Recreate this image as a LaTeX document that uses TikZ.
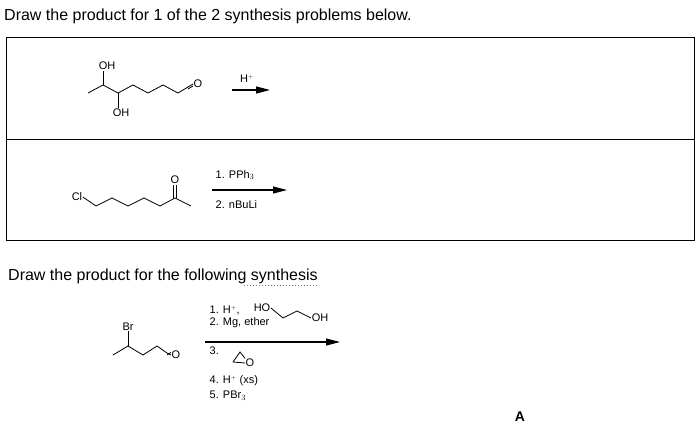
\documentclass[tikz,border=0pt]{standalone}
\usepackage{fontspec}
\setmainfont{Liberation Sans}
\usetikzlibrary{arrows.meta}
\begin{document}
\begin{tikzpicture}[x=1pt,y=-1pt,
  bond/.style={line width=0.8pt},
  lab/.style={inner sep=0.5pt,font=\fontsize{11}{12}\selectfont},
  rxn/.style={line width=1.1pt,-{Triangle[length=14pt,width=7pt]}},
  title/.style={anchor=west,inner sep=0,font=\fontsize{16}{18}\selectfont}]
\useasboundingbox (0,0) rectangle (700,433);
\node[title] (t1) at (4,16) {Draw the product for 1 of the 2 synthesis problems below.};
\draw[line width=0.8pt] (6,37) rectangle (694,240);
\draw[line width=0.8pt] (6,139) -- (694,139);
% molecule 1
\node[lab] (oh1) at (107,66) {OH};
\node[lab] (oh2) at (121,113) {OH};
\node[lab] (o1) at (198,84) {O};
\coordinate (a1) at (88,93);
\coordinate (a2) at (103,85);
\coordinate (a3) at (118,93);
\coordinate (a4) at (133,85);
\coordinate (a5) at (148,93);
\coordinate (a6) at (163,85);
\coordinate (a7) at (178,93);
\coordinate (a8) at (188,87);
\draw[bond] (a1)--(a2)--(a3)--(a4)--(a5)--(a6)--(a7)--(a8);
\draw[bond] (a2)--(oh1.south -| a2);
\draw[bond] (a3)--(oh2.north -| a3);
\draw[bond] (a8)--(o1.west);
\draw[bond] ([yshift=-2pt]a8)--([yshift=-2pt]o1.west);
\coordinate (r1s) at (232,90); \coordinate (r1e) at (270,90);
\draw[rxn] (r1s)--(r1e);
\node[lab] (hp1) at (247,79) {H$^{\scriptscriptstyle +}$};
% molecule 2
\node[lab] (cl) at (77,197) {Cl};
\coordinate (b1) at (96,206);
\coordinate (b2) at (112,198);
\coordinate (b3) at (128,206);
\coordinate (b4) at (144,198);
\coordinate (b5) at (160,206);
\coordinate (b6) at (175,198);
\coordinate (b7) at (191,206);
\node[lab] (o2) at (175,180) {O};
\draw[bond] (cl.east)--(b1)--(b2)--(b3)--(b4)--(b5)--(b6)--(b7);
\draw[bond] ([xshift=-1.3pt]b6)--([xshift=-1.3pt]o2.south);
\draw[bond] ([xshift=1.3pt]b6)--([xshift=1.3pt]o2.south);
\coordinate (r2s) at (212,190); \coordinate (r2e) at (287,190);
\draw[rxn] (r2s)--(r2e);
\node[lab,anchor=west] (pph) at (215,175) {1. PPh$_3$};
\node[lab,anchor=west] (nbu) at (215,205) {2. nBuLi};
% second section
\node[title] (t2) at (8,276) {Draw the product for the following synthesis};
\draw[blue!60,line width=1pt,dotted] (t2.south east) ++(-74,2) -- ++(74,0);
\node[lab] (br) at (128,327) {Br};
\coordinate (c1) at (113,355);
\coordinate (c2) at (128,346);
\coordinate (c3) at (143,355);
\coordinate (c4) at (157,346);
\coordinate (c5) at (167,353);
\node[lab] (o3) at (176,355) {O};
\draw[bond] (c1)--(c2)--(c3)--(c4)--(c5);
\draw[bond] (c2)--(br.south);
\draw[bond] (c5)--(o3.west);
\draw[bond] ([yshift=-2pt]c5)--([yshift=-2pt]o3.north west);
\coordinate (r3s) at (205,342); \coordinate (r3e) at (340,342);
\draw[rxn] (r3s)--(r3e);
\node[lab,anchor=west] (s1) at (209,310) {1. H$^{\scriptscriptstyle +}$,};
\node[lab] (ho) at (262,308) {HO};
\node[lab] (oh3) at (320,318) {OH};
\coordinate (d1) at (283,318);
\coordinate (d2) at (297,311);
\draw[bond] (ho.east)--(d1)--(d2)--(oh3.west);
\node[lab,anchor=west] (s2) at (209,323) {2. Mg, ether};
\node[lab,anchor=west] (s3) at (209,351) {3.};
\coordinate (e1) at (240,352);
\coordinate (e2) at (233,362);
\node[lab] (eo) at (250,363) {O};
\draw[bond] (e2)--(e1)--(eo.north west);
\draw[bond] (e2)--(eo.west);
\node[lab,anchor=west] (s4) at (209,381) {4. H$^{\scriptscriptstyle +}$ (xs)};
\node[lab,anchor=west] (s5) at (209,396) {5. PBr$_3$};
\node[font=\fontsize{14}{16}\selectfont\bfseries] (A) at (520,417) {A};
\end{tikzpicture}
\end{document}
